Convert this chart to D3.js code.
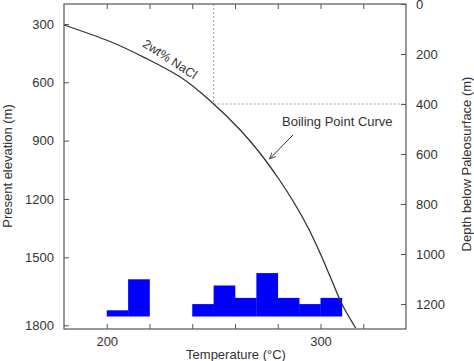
<!DOCTYPE html>
<html>
<head>
<meta charset="utf-8">
<script src="https://cdn.jsdelivr.net/npm/d3@7"></script>
<style>
    body { margin: 0; background: #fff; }
    svg text { font-family: "Liberation Sans", Arial, sans-serif; fill: #333; }
</style>
</head>
<body>
<svg id="chart" width="474" height="361"></svg>
<script>
// boiling point curve, 2 wt% NaCl (depth below paleosurface in m, temperature in C)
var curveDepth = [84, 150, 220, 290, 400, 500, 600, 700, 800, 900, 1000, 1100, 1200, 1297];
var curveTemp  = [180, 201.5, 219, 234, 250, 262, 272, 280.5, 288, 294.5, 300, 305, 310, 316.5];

// fluid inclusion homogenisation temperatures, 10 C bins
var binStart = [200, 210, 240, 250, 260, 270, 280, 290, 300];
var binCount = [1, 6, 2, 5, 3, 7, 3, 2, 3];
var binWidth = 10;

// dashed guide: paleo depth 400 m at 250 C
var guideTemp = 250, guideDepth = 400;

var tempTicks = [200, 220, 240, 260, 280, 300, 320];
var tempLabels = [200, 300];
var elevTicks = [300, 600, 900, 1200, 1500, 1800];
var depthTicks = [0, 200, 400, 600, 800, 1000, 1200];

var svg = d3.select("#chart"),
    plotL = 64, plotR = 406, plotT = 4, plotB = 329;

var x = d3.scaleLinear().domain([180, 340]).range([plotL, plotR]);
var yDepth = d3.scaleLinear().domain([0, 1300]).range([plotT, plotB]);
// left axis is not quite linear in the original figure
var yElev = d3.scaleLinear().domain([300, 1500, 1800]).range([24, 257.3, 325.3]);
var yCount = d3.scaleLinear().domain([0, 10]).range([yDepth(1250), yDepth(1250) - 62]);

// histogram
svg.append("g").selectAll("rect")
    .data(binStart)
    .enter().append("rect")
    .attr("x", function(d) { return x(d); })
    .attr("width", function(d) { return x(d + binWidth) - x(d) + 0.3; })
    .attr("y", function(d, i) { return yCount(binCount[i]); })
    .attr("height", function(d, i) { return yCount(0) - yCount(binCount[i]); })
    .attr("fill", "#0000ff");

// dashed guides
svg.append("line")
    .attr("x1", x(guideTemp)).attr("x2", x(guideTemp))
    .attr("y1", yDepth(0)).attr("y2", yDepth(guideDepth))
    .attr("stroke", "#888").attr("stroke-width", 0.8).attr("stroke-dasharray", "2,2");
svg.append("line")
    .attr("x1", x(guideTemp)).attr("x2", x(340))
    .attr("y1", yDepth(guideDepth)).attr("y2", yDepth(guideDepth))
    .attr("stroke", "#888").attr("stroke-width", 0.8).attr("stroke-dasharray", "2,2");

// boiling curve
var line = d3.line()
    .x(function(d, i) { return x(curveTemp[i]); })
    .y(function(d) { return yDepth(d); })
    .curve(d3.curveMonotoneY);
svg.append("path")
    .datum(curveDepth)
    .attr("d", line)
    .attr("fill", "none")
    .attr("stroke", "#333")
    .attr("stroke-width", 1.3);

// frame
svg.append("rect")
    .attr("x", plotL).attr("y", plotT)
    .attr("width", plotR - plotL).attr("height", plotB - plotT)
    .attr("fill", "none").attr("stroke", "#555").attr("stroke-width", 1.2);

function styleAxis(g) {
    g.select(".domain").remove();
    g.selectAll("line").attr("stroke", "#555");
    g.selectAll("text").attr("font-size", 13).attr("fill", "#333")
        .attr("font-family", "Liberation Sans, Arial, sans-serif");
}

svg.append("g")
    .attr("transform", "translate(0," + plotB + ")")
    .call(d3.axisBottom(x).tickValues(tempTicks).tickSizeInner(-5).tickSizeOuter(0).tickPadding(8)
        .tickFormat(function(d) { return tempLabels.indexOf(d) >= 0 ? d : ""; }))
    .call(styleAxis);

svg.append("g")
    .attr("transform", "translate(0," + plotT + ")")
    .call(d3.axisTop(x).tickValues(tempTicks).tickSizeInner(-5).tickSizeOuter(0).tickFormat(""))
    .call(styleAxis);

svg.append("g")
    .attr("transform", "translate(" + plotL + ",0)")
    .call(d3.axisLeft(yElev).tickValues(elevTicks).tickSizeInner(-5).tickSizeOuter(0).tickPadding(10)
        .tickFormat(d3.format("d")))
    .call(styleAxis);

svg.append("g")
    .attr("transform", "translate(" + plotR + ",0)")
    .call(d3.axisRight(yDepth).tickValues(depthTicks).tickSizeInner(-5).tickSizeOuter(0).tickPadding(10)
        .tickFormat(d3.format("d")))
    .call(styleAxis);

// axis titles
svg.append("text")
    .attr("x", 236).attr("y", 359)
    .attr("text-anchor", "middle").attr("font-size", 13)
    .text("Temperature (\u00b0C)");
svg.append("text")
    .attr("transform", "translate(12,166) rotate(-90)")
    .attr("text-anchor", "middle").attr("font-size", 13)
    .text("Present elevation (m)");
svg.append("text")
    .attr("transform", "translate(471,164) rotate(-90)")
    .attr("text-anchor", "middle").attr("font-size", 13)
    .text("Depth below Paleosurface (m)");

// curve annotations
svg.append("text")
    .attr("transform", "translate(" + (x(229) - 1) + "," + (yDepth(255) - 5) + ") rotate(33)")
    .attr("text-anchor", "middle").attr("font-size", 12.5)
    .text("2wt% NaCl");

svg.append("text")
    .attr("x", 282).attr("y", 126)
    .attr("font-size", 13)
    .text("Boiling Point Curve");

svg.append("defs").append("marker")
    .attr("id", "arrow")
    .attr("viewBox", "0 0 10 10")
    .attr("refX", 9).attr("refY", 5)
    .attr("markerWidth", 7).attr("markerHeight", 7)
    .attr("orient", "auto")
    .append("path")
    .attr("d", "M0,1 L9,5 L0,9")
    .attr("fill", "none").attr("stroke", "#333").attr("stroke-width", 1.2);

svg.append("line")
    .attr("x1", 293).attr("y1", 135)
    .attr("x2", 269.5).attr("y2", 159)
    .attr("stroke", "#333").attr("stroke-width", 1)
    .attr("marker-end", "url(#arrow)");
</script>
</body>
</html>
